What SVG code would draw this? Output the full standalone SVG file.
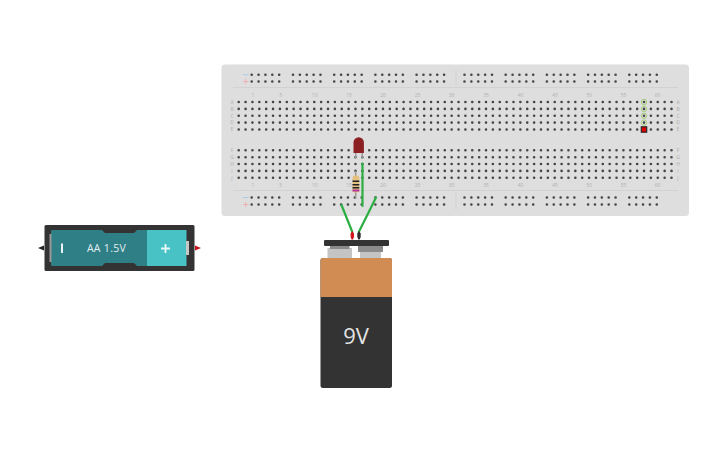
<svg xmlns="http://www.w3.org/2000/svg" width="725" height="453" viewBox="0 0 725 453">
<style>
.h{fill:none;stroke:#454545;stroke-width:2.6;stroke-linecap:round;stroke-dasharray:0 6.87}
.t{font-family:"Open Sans","Noto Sans",sans-serif}
.n{font-size:5px;fill:#b0b0b0;text-anchor:middle}
.w{fill:none;stroke:#2bae42;stroke-width:2.2;stroke-linecap:round}
.g{fill:none;stroke:#a4cf78;stroke-width:1}
.sep{stroke:#cfcfcf;stroke-width:.8}
</style>
<defs>
<path id="rail" class="h" d="M251.7 0h28M293 0h28M334.2 0h28M375.4 0h28M416.6 0h28M464.5 0h28M505.7 0h28M546.9 0h28M588.1 0h28M629.3 0h28"/>
<path id="row" class="h" d="M238.7 0H672"/>
</defs>
<rect width="725" height="453" fill="#fff"/>
<g id="breadboard">
<rect x="221.500" y="64.500" width="467.500" height="151.500" rx="3.500" fill="#dedede"/>
<path class="sep" d="M233 87.500H678M233 190.500H678M456 70V86M456 192V210" fill="none"/>
<use href="#rail" y="74.800"/><use href="#rail" y="81.500"/><use href="#rail" y="197.500"/><use href="#rail" y="204.500"/>
<use href="#row" y="102"/><use href="#row" y="108.900"/><use href="#row" y="115.700"/><use href="#row" y="122.600"/><use href="#row" y="129.500"/>
<use href="#row" y="150.300"/><use href="#row" y="157.200"/><use href="#row" y="164"/><use href="#row" y="170.900"/><use href="#row" y="177.800"/>
<path d="M243 74.800h5.500" stroke="#a9cbe6" stroke-width="1"/>
<path d="M243 81.500h5.500M245.700 78.800v5.400" stroke="#eeb0b0" stroke-width="1"/>
<path d="M243 197.500h5.500" stroke="#a9cbe6" stroke-width="1"/>
<path d="M243 204.500h5.500M245.700 201.800v5.400" stroke="#eeb0b0" stroke-width="1"/>
<g class="t n">
<text x="253" y="97">1</text><text x="280.700" y="97">5</text><text x="314.700" y="97">10</text><text x="349" y="97">15</text><text x="383" y="97">20</text><text x="417.500" y="97">25</text><text x="451.500" y="97">30</text><text x="486" y="97">35</text><text x="520.500" y="97">40</text><text x="555" y="97">45</text><text x="589" y="97">50</text><text x="623.500" y="97">55</text><text x="657.500" y="97">60</text>
<text x="253" y="187">1</text><text x="280.700" y="187">5</text><text x="314.700" y="187">10</text><text x="349" y="187">15</text><text x="383" y="187">20</text><text x="417.500" y="187">25</text><text x="451.500" y="187">30</text><text x="486" y="187">35</text><text x="520.500" y="187">40</text><text x="555" y="187">45</text><text x="589" y="187">50</text><text x="623.500" y="187">55</text><text x="657.500" y="187">60</text>
<text x="232" y="103.800">A</text><text x="232" y="110.700">B</text><text x="232" y="117.500">C</text><text x="232" y="124.400">D</text><text x="232" y="131.300">E</text>
<text x="232" y="152.100">F</text><text x="232" y="159">G</text><text x="232" y="165.800">H</text><text x="232" y="172.700">I</text><text x="232" y="179.600">J</text>
<text x="678" y="103.800">A</text><text x="678" y="110.700">B</text><text x="678" y="117.500">C</text><text x="678" y="124.400">D</text><text x="678" y="131.300">E</text>
<text x="678" y="152.100">F</text><text x="678" y="159">G</text><text x="678" y="165.800">H</text><text x="678" y="172.700">I</text><text x="678" y="179.600">J</text>
</g>
<circle class="g" cx="644" cy="102" r="2.700"/><circle class="g" cx="644" cy="108.900" r="2.700"/><circle class="g" cx="644" cy="115.700" r="2.700"/><circle class="g" cx="644" cy="122.600" r="2.700"/>
<rect x="641.300" y="126.800" width="5.400" height="5.400" fill="#e00000" stroke="#2a2a2a" stroke-width="1.200"/>
</g>
<g id="connectors">
<path class="w" d="M362.500 163.500V206"/>
<path class="w" d="M341.500 205L352.300 232"/>
<path class="w" d="M376 197.500L358.800 232"/>
</g>
<g id="resistor">
<path d="M355.700 171v28" stroke="#9a9a9a" stroke-width="1.500"/>
<rect x="352.500" y="175.500" width="6.800" height="17" rx="2.500" fill="#e3c07f"/>
<rect x="352.500" y="180.500" width="6.800" height="1.500" fill="#222"/>
<rect x="352.500" y="184" width="6.800" height="1.500" fill="#222"/>
<rect x="352.500" y="187" width="6.800" height="1.500" fill="#222"/>
<rect x="352.500" y="189.500" width="6.800" height="2" fill="#b4359a"/>
</g>
<g id="led">
<path d="M355.700 152v6M362.200 152v6" stroke="#9a9a9a" stroke-width="1.500"/>
<path d="M353.500 153V142.500a5.200 5.200 0 0 1 10.400 0V153z" fill="#8c1f22"/>
</g>
<g id="battery-9v">
<rect x="327.500" y="248" width="24.500" height="11" fill="#c4c4c4"/>
<rect x="330" y="245" width="19.500" height="4" fill="#8a8a8a"/>
<rect x="360" y="252" width="21" height="7" fill="#c4c4c4"/>
<path d="M358 245h25v7h-25z" fill="#8a8a8a"/>
<rect x="324" y="240" width="65" height="6" rx="1" fill="#333"/>
<rect x="320.500" y="258" width="71.500" height="130" rx="2.500" fill="#333"/>
<path d="M320.500 297V260.500a2.500 2.500 0 0 1 2.500-2.500h66.500a2.500 2.500 0 0 1 2.500 2.500V297z" fill="#d08c52"/>
<text class="t" x="356" y="344" font-size="22" fill="#e4e4e4" text-anchor="middle">9V</text>
<path d="M352.300 231l1.700 2.500v3.500l-1 2.500h-1.400l-1-2.500v-3.500z" fill="#d3141a"/>
<path d="M359 231l1.700 2.500v3.500l-1 2.500h-1.400l-1-2.500v-3.500z" fill="#2e2e2e"/>
</g>
<g id="battery-aa">
<path d="M38 248l6-2.500v5z" fill="#222"/>
<path d="M201 248l-6-2.500v5z" fill="#c8141c"/>
<rect x="44.500" y="225" width="150" height="46" rx="1.500" fill="#333"/>
<path d="M52 230H102l3 3h29l3-3H147V266H137l-3-3H105l-3 3H52a1.500 1.500 0 0 1-1-1V231a1.500 1.500 0 0 1 1-1z" fill="#2f7f87"/>
<rect x="147" y="230" width="39.500" height="36" fill="#49c2c6"/>
<rect x="49.500" y="234" width="2" height="28" fill="#9a9a9a"/>
<rect x="186" y="241" width="3" height="14" fill="#c8c8c8"/>
<rect x="61" y="243.500" width="2" height="9.500" fill="#e8f4f5"/>
<path d="M161 248.500h9M165.500 244v9" stroke="#e8f7f7" stroke-width="1.800" fill="none"/>
<text class="t" x="106.500" y="252" font-size="10.500" letter-spacing=".3" fill="#e3eef0" text-anchor="middle">AA 1.5V</text>
</g>
</svg>
